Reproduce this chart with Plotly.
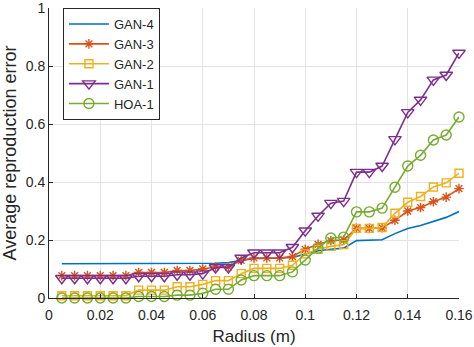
import plotly.graph_objects as go

radius = [0.005, 0.01, 0.015, 0.02, 0.025, 0.03, 0.035, 0.04, 0.045, 0.05, 0.055, 0.06,
          0.065, 0.07, 0.075, 0.08, 0.085, 0.09, 0.095, 0.1, 0.105, 0.11, 0.115, 0.12,
          0.125, 0.13, 0.135, 0.14, 0.145, 0.15, 0.155, 0.16]

gan4 = [0.118]*12 + [0.12, 0.122, 0.13, 0.136, 0.136, 0.137, 0.14, 0.152, 0.163, 0.168, 0.172,
                     0.198, 0.199, 0.201, 0.222, 0.24, 0.25, 0.264, 0.278, 0.298]
gan3 = [0.077]*6 + [0.088]*3 + [0.095, 0.095, 0.1, 0.107, 0.107, 0.13, 0.138, 0.138, 0.138, 0.143,
                                0.168, 0.185, 0.198, 0.2, 0.24, 0.24, 0.242, 0.268, 0.3, 0.312,
                                0.332, 0.348, 0.377]
gan2 = [0.008]*6 + [0.027]*3 + [0.039, 0.039, 0.047, 0.06, 0.06, 0.084, 0.102, 0.102, 0.102, 0.113,
                                0.152, 0.168, 0.178, 0.184, 0.24, 0.24, 0.243, 0.292, 0.33, 0.35,
                                0.383, 0.397, 0.43]
gan1 = [0.068]*6 + [0.075]*3 + [0.08, 0.08, 0.084, 0.105, 0.105, 0.138, 0.156, 0.156, 0.156, 0.175,
                                0.232, 0.283, 0.327, 0.334, 0.434, 0.434, 0.455, 0.547, 0.64, 0.683,
                                0.752, 0.769, 0.845]
hoa1 = [0.0]*6 + [0.005]*3 + [0.01, 0.01, 0.016, 0.03, 0.03, 0.062, 0.077, 0.077, 0.077, 0.09,
                              0.131, 0.172, 0.207, 0.21, 0.297, 0.297, 0.31, 0.382, 0.455, 0.492,
                              0.545, 0.562, 0.624]

x_ticks = [0, 0.02, 0.04, 0.06, 0.08, 0.1, 0.12, 0.14, 0.16]
x_labels = ["0", "0.02", "0.04", "0.06", "0.08", "0.1", "0.12", "0.14", "0.16"]
y_ticks = [0, 0.2, 0.4, 0.6, 0.8, 1]
y_labels = ["0", "0.2", "0.4", "0.6", "0.8", "1"]

series = [
    ("GAN-4", gan4, "#0072BD", None, 0),
    ("GAN-3", gan3, "#D95319", "asterisk-open", 8),
    ("GAN-2", gan2, "#EDB120", "square-open", 8),
    ("GAN-1", gan1, "#7E2F8E", "triangle-down-open", 11),
    ("HOA-1", hoa1, "#77AC30", "circle-open", 10),
]

fig = go.Figure()
for name, vals, color, sym, size in series:
    if sym is None:
        fig.add_trace(go.Scatter(x=radius, y=vals, name=name, mode="lines",
                                 line=dict(color=color, width=1.6), cliponaxis=False))
    else:
        fig.add_trace(go.Scatter(x=radius, y=vals, name=name, mode="lines+markers",
                                 line=dict(color=color, width=1.6),
                                 marker=dict(symbol=sym, size=size, color=color,
                                             line=dict(color=color, width=1.4)),
                                 cliponaxis=False))

axis_font = dict(family="Liberation Sans, Arial, sans-serif", size=14, color="#262626")
fig.update_layout(
    width=474, height=347,
    margin=dict(l=49, r=15, t=8, b=49, autoexpand=False),
    paper_bgcolor="white", plot_bgcolor="white",
    font=dict(family="Liberation Sans, Arial, sans-serif", size=14, color="#262626"),
    showlegend=True,
    legend=dict(x=0.034, y=1.0, xanchor="left", yanchor="top",
                bgcolor="white", bordercolor="#262626", borderwidth=1,
                font=dict(size=13, color="#262626"), tracegroupgap=0,
                itemwidth=40),
    xaxis=dict(range=[0, 0.16], tickvals=x_ticks, ticktext=x_labels,
               showgrid=True, gridcolor="#e3e3e3", gridwidth=1,
               showline=True, linecolor="#262626", linewidth=1,
               ticks="inside", ticklen=4, tickcolor="#262626",
               zeroline=False, tickfont=axis_font, ticklabelstandoff=4,
               ticklabeloverflow="allow", automargin=False,
               title=dict(text="Radius (m)", font=dict(size=17, color="#262626"), standoff=8)),
    yaxis=dict(range=[0, 1], tickvals=y_ticks, ticktext=y_labels,
               showgrid=True, gridcolor="#e3e3e3", gridwidth=1,
               showline=True, linecolor="#262626", linewidth=1,
               ticks="inside", ticklen=4, tickcolor="#262626",
               zeroline=False, tickfont=axis_font, ticklabeloverflow="allow",
               automargin=False,
               title=dict(text="Average reproduction error", font=dict(size=18, color="#262626"),
                          standoff=4)),
)

fig.write_html("out.html")
